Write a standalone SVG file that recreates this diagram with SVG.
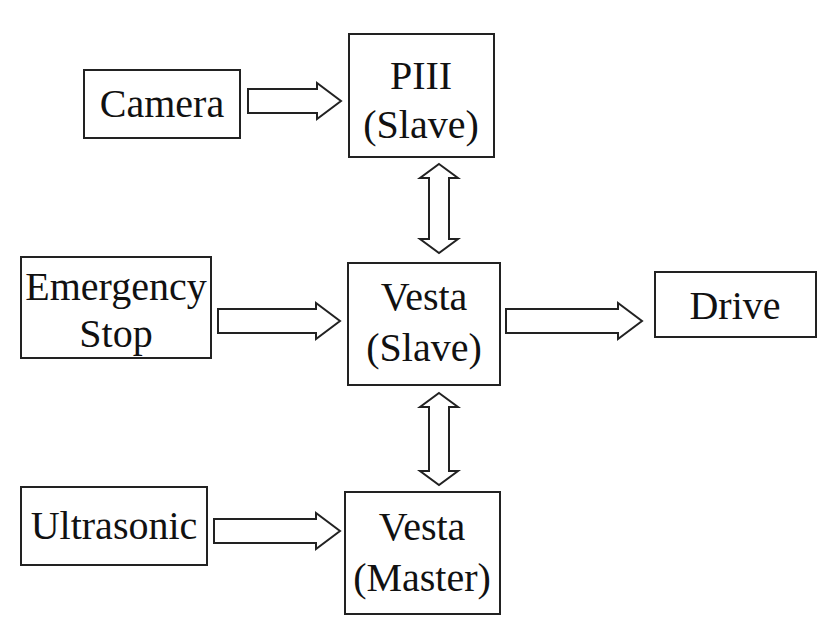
<svg xmlns="http://www.w3.org/2000/svg" width="838" height="621" viewBox="0 0 838 621">
<style>
.box{fill:#fff;stroke:#222;stroke-width:2}
.arr{fill:#fff;stroke:#222;stroke-width:2;stroke-linejoin:miter}
text{font-family:"Liberation Serif",serif;font-size:40px;fill:#111;text-anchor:middle}
</style>
<rect width="838" height="621" fill="#fff"/>
<g id="camera"><rect class="box" x="84" y="70" width="156" height="68"/><text x="162" y="117">Camera</text></g>
<g id="piii"><rect class="box" x="349" y="34" width="145" height="123"/><text x="421" y="89">PIII</text><text x="421" y="138">(Slave)</text></g>
<g id="estop"><rect class="box" x="21" y="257" width="190" height="101"/><text x="116" y="300">Emergency</text><text x="116" y="347">Stop</text></g>
<g id="vesta-slave"><rect class="box" x="348" y="263" width="152" height="122"/><text x="424" y="310">Vesta</text><text x="424" y="361">(Slave)</text></g>
<g id="drive"><rect class="box" x="655" y="272" width="161" height="65"/><text x="735" y="319">Drive</text></g>
<g id="ultrasonic"><rect class="box" x="21" y="487" width="186" height="78"/><text x="114" y="539">Ultrasonic</text></g>
<g id="vesta-master"><rect class="box" x="345" y="492" width="155" height="122"/><text x="422" y="540">Vesta</text><text x="422" y="591">(Master)</text></g>
<g id="connectors">
<path class="arr" d="M248,89 H317 V83 L341,101 L317,119 V113 H248 Z"/>
<path class="arr" d="M218,309 H316 V303 L340,321 L316,339 V333 H218 Z"/>
<path class="arr" d="M506,309 H618 V303 L642,321 L618,339 V333 H506 Z"/>
<path class="arr" d="M214,519 H316 V513 L340,531 L316,549 V543 H214 Z"/>
<path class="arr" d="M439,164 L458,178 H449 V239 H458 L439,253 L420,239 H429 V178 H420 Z"/>
<path class="arr" d="M439,393 L458,407 H449 V471 H458 L439,485 L420,471 H429 V407 H420 Z"/>
</g>
</svg>
